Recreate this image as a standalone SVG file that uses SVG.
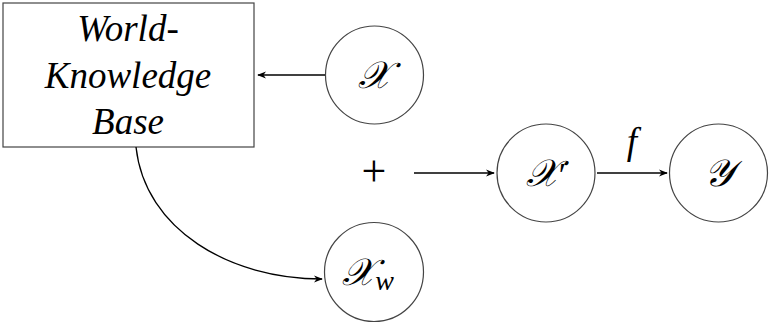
<svg xmlns="http://www.w3.org/2000/svg" width="770" height="325" viewBox="0 0 770 325">
<style>
.node{fill:#fff;stroke:#444;stroke-width:1.2}
.edge{fill:none;stroke:#000;stroke-width:1.3}
.t{font-family:'Liberation Serif','Times New Roman',serif;font-style:italic;font-size:37px;fill:#000;text-anchor:middle}
.m{font-family:'Liberation Serif','Times New Roman',serif;font-style:italic;font-size:38px;fill:#000;text-anchor:middle}
</style>
<defs>
<marker id="ah" viewBox="0 0 10 10" refX="9" refY="5" markerWidth="9" markerHeight="9" markerUnits="userSpaceOnUse" orient="auto">
<path d="M0,1 L10,5 L0,9 L3,5 Z" fill="#000"/>
</marker>
</defs>
<g id="kb">
<rect class="node" x="3" y="3" width="251" height="144"/>
<text class="t" x="128" y="41">World-</text>
<text class="t" x="128" y="88">Knowledge</text>
<text class="t" x="128" y="134">Base</text>
</g>
<g id="x">
<circle class="node" cx="374.5" cy="75" r="49"/>
<text class="m" x="374.5" y="88">𝒳</text>
</g>
<g id="xw">
<circle class="node" cx="374" cy="272" r="49.5"/>
<text class="m" x="368" y="285">𝒳<tspan font-size="28" dy="5">w</tspan></text>
</g>
<g id="plus">
<text font-family="'Liberation Serif','Times New Roman',serif" font-size="44" x="374" y="186" text-anchor="middle">+</text>
</g>
<g id="xp">
<circle class="node" cx="546" cy="173" r="49"/>
<text class="m" x="546" y="186">𝒳<tspan font-style="normal" font-size="34">′</tspan></text>
</g>
<g id="y">
<circle class="node" cx="718.5" cy="173" r="49"/>
<text class="m" x="718.5" y="186">𝒴</text>
</g>
<g id="edges">
<line class="edge" x1="325" y1="75" x2="258" y2="75" marker-end="url(#ah)"/>
<line class="edge" x1="414" y1="173" x2="494" y2="173" marker-end="url(#ah)"/>
<line class="edge" x1="597" y1="173" x2="667" y2="173" marker-end="url(#ah)"/>
<path class="edge" d="M136,147 C145,230 230,279 322,279" marker-end="url(#ah)"/>
<text class="t" x="632" y="154" font-size="34">f</text>
</g>
</svg>
